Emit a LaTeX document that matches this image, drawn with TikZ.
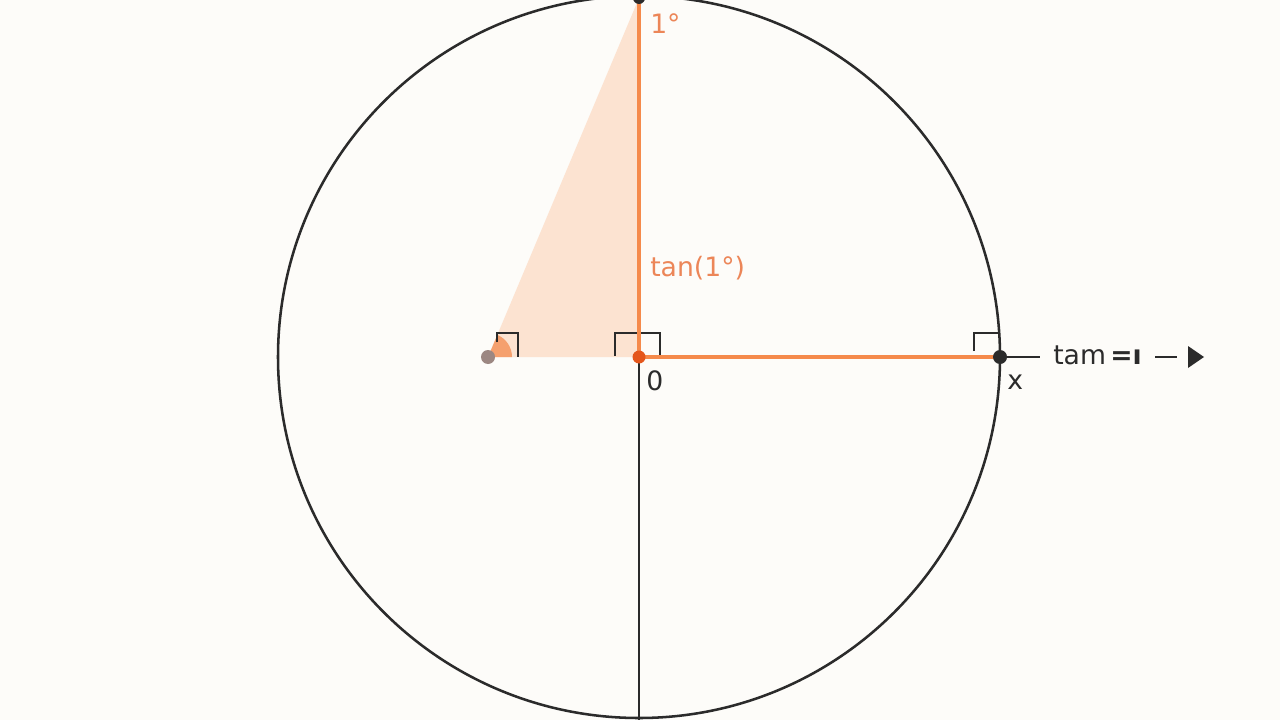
\documentclass[tikz,border=0pt]{standalone}
\usepackage{fontspec}
\setmainfont{DejaVu Sans}
\definecolor{bg}{HTML}{FDFCF9}
\definecolor{orng}{HTML}{F58A4B}
\definecolor{lbl}{HTML}{EC8658}
\definecolor{peach}{HTML}{FCE3D1}
\definecolor{wedge}{HTML}{F5A06E}
\definecolor{dk}{HTML}{2B2B2B}
\definecolor{gdot}{HTML}{9C8782}
\definecolor{odot}{HTML}{E4561C}
\begin{document}
\begin{tikzpicture}[x=0.75pt,y=-0.75pt,
  orline/.style={draw=orng,line width=3.5pt},
  ramark/.style={draw=dk,line width=2pt},
  lab/.style={font=\fontsize{20}{24}\selectfont,inner sep=0pt}]
\fill[bg] (0,0) rectangle (1280,720);
\useasboundingbox (0,0) rectangle (1280,720);
\coordinate (O) at (639,357);
\coordinate (T) at (639,-2);
\coordinate (X) at (1000,357);
\coordinate (L) at (488,357);
\coordinate (E) at (1040,357);
% shaded triangle
\fill[peach] (L) -- (O) -- (T) -- cycle;
\fill[wedge] (L) -- ++(0:24) arc[start angle=0,end angle=-67,radius=24] -- cycle;
% circle
\draw[dk,line width=1.9pt] (O) circle[radius=361];
% axis down
\draw[dk,line width=1.3pt] (O) -- (639,722);
% right angle marks
\draw[ramark] (497,342) -- (497,333) -- (518,333) -- (518,357);
\draw[ramark] (615,356) -- (615,333) -- (660,333) -- (660,356);
\draw[ramark] (974,351) -- (974,333) -- (998,333);
% orange segments
\draw[orline] (O) -- (T);
\draw[orline] (O) -- (X);
% axis extension
\draw[dk,line width=1.5pt] (X) -- (E);
% dots
\fill[gdot] (L) circle[radius=7];
\fill[odot] (O) circle[radius=6.5];
\fill[dk] (X) circle[radius=7];
\fill[dk] (T) circle[radius=6];
% labels
\node[lab,text=lbl,anchor=west] (l1) at (650,24) {1°};
\node[lab,text=lbl,anchor=west] (lt) at (650,268) {tan(1°)};
\node[lab,text=dk,anchor=west] (l0) at (646,381) {0};
\node[lab,text=dk,anchor=west] (lx) at (1007,382) {x};
\node[lab,text=dk,anchor=west] (ltan) at (1053,355) {tam};
\node[lab,text=dk,anchor=west,font=\fontsize{20}{24}\selectfont\bfseries] (leq) at (1110,357) {=ı};
\coordinate (d1) at (1155,357);
\coordinate (d2) at (1177,357);
\draw[dk,line width=1.5pt] (d1) -- (d2);
\fill[dk] (1188,346) -- (1204,357) -- (1188,368) -- cycle;
\end{tikzpicture}
\end{document}
